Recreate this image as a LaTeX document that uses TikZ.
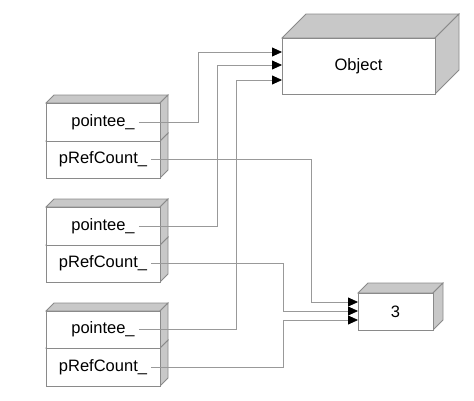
\documentclass[tikz,border=0pt]{standalone}
\usepackage{fontspec}
\setmainfont{Liberation Sans}
\usetikzlibrary{arrows.meta}
\definecolor{edgec}{HTML}{8A8A8A}
\definecolor{shadec}{HTML}{C8C8C8}
\definecolor{wirec}{HTML}{999999}
\newcommand\drawcube[5]{%
  \filldraw[boxline,fill=shadec] (#1,#2) -- ++(#5,-#5) -- ++(#3-#1,0) -- (#3,#2) -- cycle;
  \filldraw[boxline,fill=shadec] (#3,#2) -- ++(#5,-#5) -- ++(0,#4-#2) -- (#3,#4) -- cycle;
  \filldraw[boxline,fill=white] (#1,#2) rectangle (#3,#4);
}
\begin{document}
\begin{tikzpicture}[x=1pt,y=-1pt,
  boxline/.style={draw=edgec,line width=0.8pt},
  lbl/.style={font=\fontsize{16.5}{19}\selectfont,inner sep=4pt},
  wire/.style={draw=wirec,line width=0.8pt},
  arr/.style={-{Triangle[length=10pt,width=9pt,color=black]}}]
\useasboundingbox (0,0) rectangle (474,400);
% Object
\drawcube{282}{38}{435}{94}{24}
\node[lbl] (obj) at (358.5,66) {Object};
% count box
\drawcube{358}{293}{433}{330}{10}
\node[lbl] (cnt) at (395.5,311.5) {3};
% left boxes
\drawcube{46}{141}{160}{178}{8}
\drawcube{46}{103}{160}{141}{8}
\drawcube{46}{245}{160}{282}{8}
\drawcube{46}{207}{160}{245}{8}
\drawcube{46}{348}{160}{386}{8}
\drawcube{46}{311}{160}{348}{8}
\node[lbl] (p1) at (103,122) {pointee\_};
\node[lbl] (r1) at (103,159.5) {pRefCount\_};
\node[lbl] (p2) at (103,226) {pointee\_};
\node[lbl] (r2) at (103,263.5) {pRefCount\_};
\node[lbl] (p3) at (103,329.5) {pointee\_};
\node[lbl] (r3) at (103,367) {pRefCount\_};
% arrow targets
\coordinate (o1) at (282,52);
\coordinate (o2) at (282,65);
\coordinate (o3) at (282,80);
\coordinate (t1) at (358,302);
\coordinate (t2) at (358,311);
\coordinate (t3) at (358,320);
% connectors
\draw[wire,arr] (p1.east) -| (198,52) -- (o1);
\draw[wire,arr] (p2.east) -| (217,65) -- (o2);
\draw[wire,arr] (p3.east) -| (236,80) -- (o3);
\draw[wire,arr] (r1.east) -| (311,302) -- (t1);
\draw[wire,arr] (r2.east) -| (283,311) -- (t2);
\draw[wire,arr] (r3.east) -| (283,320) -- (t3);
\end{tikzpicture}
\end{document}
